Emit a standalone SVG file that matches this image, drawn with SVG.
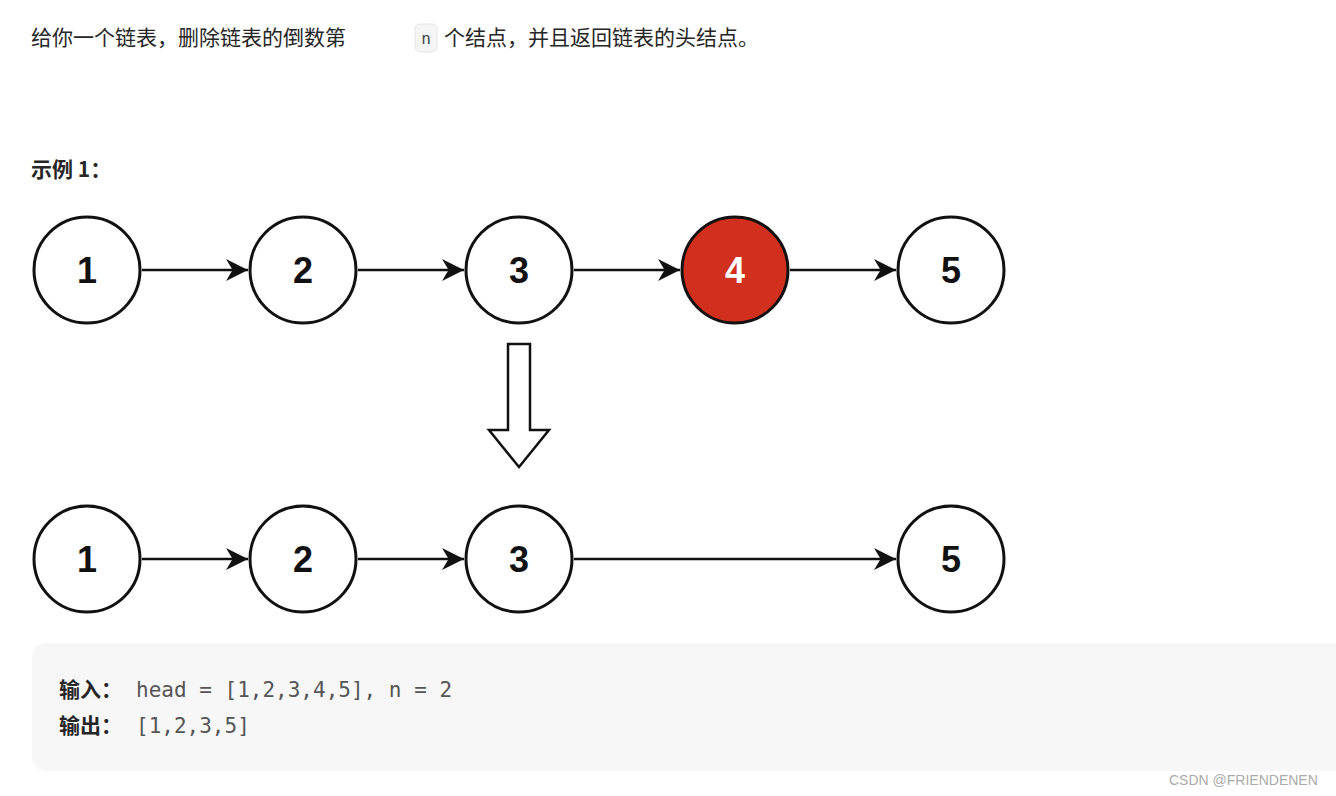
<svg xmlns="http://www.w3.org/2000/svg" width="1336" height="796" viewBox="0 0 1336 796">
<style>
.c{fill:#fff;stroke:#111;stroke-width:3}
.n{font-family:"Liberation Sans",Arial,sans-serif;font-weight:bold;font-size:36px;text-anchor:middle;fill:#111}
.e{stroke:#111;stroke-width:2.5;fill:none;marker-end:url(#a)}
.t{font-family:"Noto Sans CJK SC","Liberation Sans",sans-serif;fill:#262626}
.m{font-family:"DejaVu Sans Mono","Liberation Mono",monospace;fill:#555;font-size:21px}
</style>
<defs>
<marker id="a" viewBox="0 0 10 10" refX="10" refY="5" markerWidth="8" markerHeight="8" markerUnits="userSpaceOnUse" orient="auto"><path d="M0,0 L10,5 L0,10 L3,5 z" fill="#111"/></marker>
<marker id="b" viewBox="0 0 10 10" refX="10" refY="5" markerWidth="22" markerHeight="22" markerUnits="userSpaceOnUse" orient="auto"><path d="M0,0 L10,5 L0,10 L3,5 z" fill="#111"/></marker>
<clipPath id="clip"><rect x="0" y="200" width="1006" height="420"/></clipPath>
</defs>
<rect width="1336" height="796" fill="#fff"/>
<text class="t" x="31" y="45" font-size="21">给你一个链表，删除链表的倒数第</text>
<rect x="415" y="24" width="22" height="28" rx="5" fill="#f5f5f5" stroke="#e6e6e6"/>
<text x="426" y="44" font-family="DejaVu Sans Mono,monospace" font-size="16" fill="#444" text-anchor="middle">n</text>
<text class="t" x="444" y="45" font-size="21">个结点，并且返回链表的头结点。</text>
<text class="t" x="31" y="177" font-size="21" font-weight="bold">示例 1：</text>
<g clip-path="url(#clip)">
<g id="connectors">
<path class="e" d="M142,270 H248" style="marker-end:url(#b)"/>
<path class="e" d="M358,270 H464" style="marker-end:url(#b)"/>
<path class="e" d="M574,270 H680" style="marker-end:url(#b)"/>
<path class="e" d="M790,270 H896" style="marker-end:url(#b)"/>
<path class="e" d="M142,559 H248" style="marker-end:url(#b)"/>
<path class="e" d="M358,559 H464" style="marker-end:url(#b)"/>
<path class="e" d="M574,559 H896" style="marker-end:url(#b)"/>
<path d="M508,344 H530 V430 H549 L519,467 L489,430 H508 Z" fill="#fff" stroke="#111" stroke-width="2.5"/>
</g>
<g id="n1"><circle class="c" cx="87" cy="270" r="53"/><text class="n" x="87" y="283">1</text></g>
<g id="n2"><circle class="c" cx="303" cy="270" r="53"/><text class="n" x="303" y="283">2</text></g>
<g id="n3"><circle class="c" cx="519" cy="270" r="53"/><text class="n" x="519" y="283">3</text></g>
<g id="n4"><circle class="c" cx="735" cy="270" r="53" fill="#d1301f" style="fill:#d1301f"/><text class="n" x="735" y="283" fill="#fff" style="fill:#fff">4</text></g>
<g id="n5"><circle class="c" cx="951" cy="270" r="53"/><text class="n" x="951" y="283">5</text></g>
<g id="m1"><circle class="c" cx="87" cy="559" r="53"/><text class="n" x="87" y="572">1</text></g>
<g id="m2"><circle class="c" cx="303" cy="559" r="53"/><text class="n" x="303" y="572">2</text></g>
<g id="m3"><circle class="c" cx="519" cy="559" r="53"/><text class="n" x="519" y="572">3</text></g>
<g id="m5"><circle class="c" cx="951" cy="559" r="53"/><text class="n" x="951" y="572">5</text></g>
</g>
<rect x="32" y="643" width="1320" height="128" rx="14" fill="#f7f7f7"/>
<text class="t" x="59" y="697" font-size="21" font-weight="bold">输入：</text>
<text class="m" x="136" y="697">head = [1,2,3,4,5], n = 2</text>
<text class="t" x="59" y="733" font-size="21" font-weight="bold">输出：</text>
<text class="m" x="136" y="733">[1,2,3,5]</text>
<text x="1169" y="785" font-family="Liberation Sans,Arial,sans-serif" font-size="14" fill="#aaa">CSDN @FRIENDENEN</text>
</svg>
